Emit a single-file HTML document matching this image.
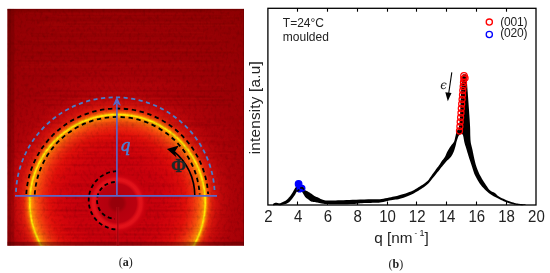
<!DOCTYPE html>
<html><head><meta charset="utf-8"><style>
html,body{margin:0;padding:0;background:#fff;}
body{width:550px;height:273px;overflow:hidden;position:relative;}
svg{position:absolute;left:0;top:0;}
</style></head><body>
<svg width="550" height="273" viewBox="0 0 550 273">
<defs>
<radialGradient id="bg" gradientUnits="userSpaceOnUse" cx="117.5" cy="202.3" r="260">
<stop offset="0.0000" stop-color="rgb(198, 0, 12)"/>
<stop offset="0.1615" stop-color="rgb(200, 0, 12)"/>
<stop offset="0.2231" stop-color="rgb(212, 5, 11)"/>
<stop offset="0.2615" stop-color="rgb(225, 15, 10)"/>
<stop offset="0.2885" stop-color="rgb(236, 42, 14)"/>
<stop offset="0.3096" stop-color="rgb(246, 78, 14)"/>
<stop offset="0.3250" stop-color="rgb(252, 122, 10)"/>
<stop offset="0.3323" stop-color="rgb(254, 160, 5)"/>
<stop offset="0.3356" stop-color="rgb(255, 226, 5)"/>
<stop offset="0.3383" stop-color="rgb(255, 236, 10)"/>
<stop offset="0.3412" stop-color="rgb(255, 172, 5)"/>
<stop offset="0.3454" stop-color="rgb(247, 108, 6)"/>
<stop offset="0.3519" stop-color="rgb(238, 65, 10)"/>
<stop offset="0.3615" stop-color="rgb(224, 32, 12)"/>
<stop offset="0.3769" stop-color="rgb(208, 16, 12)"/>
<stop offset="0.4000" stop-color="rgb(190, 7, 10)"/>
<stop offset="0.4423" stop-color="rgb(173, 2, 8)"/>
<stop offset="0.5385" stop-color="rgb(160, 0, 6)"/>
<stop offset="0.7692" stop-color="rgb(148, 0, 4)"/>
<stop offset="1.0000" stop-color="rgb(135, 0, 0)"/>
</radialGradient>
<radialGradient id="wr" gradientUnits="userSpaceOnUse" cx="117.2" cy="203.3" r="31">
<stop offset="0" stop-color="rgb(150,0,10)" stop-opacity="1"/>
<stop offset="0.2" stop-color="rgb(153,0,10)" stop-opacity="1"/>
<stop offset="0.32" stop-color="rgb(180,0,14)" stop-opacity="1"/>
<stop offset="0.62" stop-color="rgb(186,0,15)" stop-opacity="1"/>
<stop offset="0.68" stop-color="rgb(212,10,20)" stop-opacity="1"/>
<stop offset="0.735" stop-color="rgb(226,18,26)" stop-opacity="1"/>
<stop offset="0.8" stop-color="rgb(224,16,24)" stop-opacity="1"/>
<stop offset="0.86" stop-color="rgb(206,4,16)" stop-opacity="1"/>
<stop offset="0.93" stop-color="rgb(199,0,12)" stop-opacity="0.7"/>
<stop offset="1" stop-color="rgb(198,0,12)" stop-opacity="0"/>
</radialGradient>
<filter id="noise" x="0" y="0" width="100%" height="100%" filterUnits="objectBoundingBox">
<feTurbulence type="fractalNoise" baseFrequency="0.35 0.25" numOctaves="2" seed="3" result="t"/>
<feColorMatrix in="t" type="matrix" values="0 0 0 0 0  0 0 0 0 0  0 0 0 0 0  0 0 0 -1.6 0.85" result="a"/>
<feComposite in="a" in2="SourceGraphic" operator="in"/>
</filter>
<filter id="bl" x="-20%" y="-20%" width="140%" height="140%"><feGaussianBlur stdDeviation="2"/></filter>
<linearGradient id="lstrip" x1="0" x2="1" y1="0" y2="0"><stop offset="0" stop-color="#6a0000" stop-opacity="0.55"/><stop offset="1" stop-color="#6a0000" stop-opacity="0"/></linearGradient>
<linearGradient id="bstrip" x1="0" x2="0" y1="0" y2="1"><stop offset="0" stop-color="#6a0000" stop-opacity="0"/><stop offset="1" stop-color="#6a0000" stop-opacity="0.6"/></linearGradient>
</defs>
<!-- left panel -->
<rect x="7.4" y="8.9" width="236.6" height="236.8" fill="url(#bg)"/>
<g><rect x="16.5" y="10.5" width="188.5" height="1" fill="#000" opacity="0.078"/>
<rect x="10.9" y="11.5" width="202.7" height="1" fill="#000" opacity="0.070"/>
<rect x="12.8" y="12.5" width="205.7" height="1" fill="#ff3020" opacity="0.049"/>
<rect x="45.0" y="13.5" width="142.1" height="1" fill="#ff3020" opacity="0.068"/>
<rect x="58.9" y="15.5" width="167.7" height="1" fill="#000" opacity="0.048"/>
<rect x="56.4" y="16.5" width="176.8" height="1" fill="#ff3020" opacity="0.085"/>
<rect x="40.3" y="17.5" width="200.0" height="1" fill="#000" opacity="0.054"/>
<rect x="26.2" y="19.5" width="182.6" height="1" fill="#000" opacity="0.061"/>
<rect x="41.9" y="22.5" width="170.6" height="1" fill="#ff3020" opacity="0.091"/>
<rect x="66.2" y="23.5" width="170.7" height="1" fill="#000" opacity="0.093"/>
<rect x="36.7" y="24.5" width="204.9" height="1" fill="#ff3020" opacity="0.094"/>
<rect x="49.1" y="27.5" width="159.2" height="1" fill="#ff3020" opacity="0.072"/>
<rect x="49.5" y="32.5" width="155.7" height="1" fill="#ff3020" opacity="0.098"/>
<rect x="30.5" y="33.5" width="173.3" height="1" fill="#000" opacity="0.072"/>
<rect x="14.4" y="34.5" width="226.0" height="1" fill="#ff3020" opacity="0.049"/>
<rect x="30.9" y="35.5" width="160.9" height="1" fill="#000" opacity="0.071"/>
<rect x="32.3" y="40.5" width="190.2" height="1" fill="#ff3020" opacity="0.107"/>
<rect x="18.0" y="41.5" width="212.1" height="1" fill="#000" opacity="0.074"/>
<rect x="7.6" y="43.5" width="211.2" height="1" fill="#000" opacity="0.080"/>
<rect x="61.4" y="49.5" width="135.8" height="1" fill="#ff3020" opacity="0.096"/>
<rect x="31.3" y="50.5" width="206.4" height="1" fill="#ff3020" opacity="0.044"/>
<rect x="19.9" y="51.5" width="214.3" height="1" fill="#000" opacity="0.044"/>
<rect x="16.5" y="52.5" width="221.4" height="1" fill="#000" opacity="0.042"/>
<rect x="22.5" y="55.5" width="200.6" height="1" fill="#000" opacity="0.049"/>
<rect x="13.5" y="60.5" width="209.9" height="1" fill="#000" opacity="0.098"/>
<rect x="8.8" y="61.5" width="178.2" height="1" fill="#ff3020" opacity="0.050"/>
<rect x="39.1" y="63.5" width="146.2" height="1" fill="#ff3020" opacity="0.089"/>
<rect x="29.4" y="64.5" width="204.6" height="1" fill="#ff3020" opacity="0.077"/>
<rect x="20.8" y="66.5" width="174.5" height="1" fill="#ff3020" opacity="0.100"/>
<rect x="38.5" y="70.5" width="184.2" height="1" fill="#000" opacity="0.042"/>
<rect x="23.0" y="71.5" width="179.5" height="1" fill="#ff3020" opacity="0.071"/>
<rect x="20.6" y="75.5" width="209.8" height="1" fill="#000" opacity="0.054"/>
<rect x="47.0" y="82.5" width="142.4" height="1" fill="#ff3020" opacity="0.093"/>
<rect x="54.7" y="84.5" width="169.3" height="1" fill="#ff3020" opacity="0.108"/>
<rect x="31.5" y="85.5" width="155.7" height="1" fill="#ff3020" opacity="0.052"/>
<rect x="16.5" y="86.5" width="173.2" height="1" fill="#ff3020" opacity="0.050"/>
<rect x="40.3" y="90.5" width="195.8" height="1" fill="#000" opacity="0.108"/>
<rect x="59.7" y="94.5" width="134.7" height="1" fill="#000" opacity="0.058"/>
<rect x="21.8" y="95.5" width="187.0" height="1" fill="#000" opacity="0.069"/>
<rect x="62.0" y="96.5" width="160.8" height="1" fill="#000" opacity="0.081"/>
<rect x="62.5" y="98.5" width="151.4" height="1" fill="#ff3020" opacity="0.077"/>
<rect x="33.8" y="99.5" width="199.2" height="1" fill="#000" opacity="0.096"/>
<rect x="35.8" y="100.5" width="164.7" height="1" fill="#ff3020" opacity="0.063"/>
<rect x="41.0" y="104.5" width="188.1" height="1" fill="#000" opacity="0.094"/>
<rect x="44.2" y="109.5" width="169.5" height="1" fill="#ff3020" opacity="0.088"/>
<rect x="41.0" y="117.5" width="146.4" height="1" fill="#ff3020" opacity="0.050"/>
<rect x="33.9" y="118.5" width="205.7" height="1" fill="#000" opacity="0.045"/>
<rect x="50.4" y="122.5" width="154.0" height="1" fill="#000" opacity="0.102"/>
<rect x="64.6" y="124.5" width="155.6" height="1" fill="#000" opacity="0.109"/>
<rect x="33.3" y="126.5" width="179.8" height="1" fill="#000" opacity="0.054"/>
<rect x="50.7" y="127.5" width="192.1" height="1" fill="#ff3020" opacity="0.071"/>
<rect x="27.3" y="128.5" width="179.3" height="1" fill="#ff3020" opacity="0.045"/>
<rect x="23.3" y="132.5" width="218.3" height="1" fill="#ff3020" opacity="0.059"/>
<rect x="32.7" y="133.5" width="156.6" height="1" fill="#ff3020" opacity="0.058"/>
<rect x="62.6" y="134.5" width="147.2" height="1" fill="#ff3020" opacity="0.046"/>
<rect x="48.7" y="135.5" width="169.8" height="1" fill="#000" opacity="0.106"/>
<rect x="58.8" y="138.5" width="181.2" height="1" fill="#ff3020" opacity="0.072"/>
<rect x="40.6" y="139.5" width="147.8" height="1" fill="#000" opacity="0.049"/>
<rect x="14.0" y="141.5" width="220.3" height="1" fill="#000" opacity="0.054"/>
<rect x="25.7" y="142.5" width="172.7" height="1" fill="#000" opacity="0.075"/>
<rect x="28.2" y="143.5" width="214.7" height="1" fill="#000" opacity="0.041"/>
<rect x="35.9" y="146.5" width="152.0" height="1" fill="#000" opacity="0.097"/>
<rect x="37.1" y="147.5" width="156.8" height="1" fill="#000" opacity="0.075"/>
<rect x="57.3" y="150.5" width="144.3" height="1" fill="#ff3020" opacity="0.068"/>
<rect x="10.7" y="151.5" width="225.5" height="1" fill="#000" opacity="0.092"/>
<rect x="17.2" y="152.5" width="221.7" height="1" fill="#ff3020" opacity="0.101"/>
<rect x="21.9" y="154.5" width="204.5" height="1" fill="#000" opacity="0.051"/>
<rect x="23.2" y="155.5" width="163.1" height="1" fill="#ff3020" opacity="0.078"/>
<rect x="65.3" y="156.5" width="160.1" height="1" fill="#000" opacity="0.040"/>
<rect x="35.9" y="157.5" width="178.0" height="1" fill="#000" opacity="0.075"/>
<rect x="23.3" y="158.5" width="215.4" height="1" fill="#000" opacity="0.043"/>
<rect x="25.7" y="159.5" width="204.4" height="1" fill="#ff3020" opacity="0.077"/>
<rect x="27.0" y="164.5" width="157.9" height="1" fill="#000" opacity="0.091"/>
<rect x="57.5" y="166.5" width="133.0" height="1" fill="#ff3020" opacity="0.091"/>
<rect x="38.8" y="168.5" width="174.9" height="1" fill="#ff3020" opacity="0.096"/>
<rect x="9.3" y="174.5" width="226.7" height="1" fill="#000" opacity="0.047"/>
<rect x="55.3" y="181.5" width="143.8" height="1" fill="#ff3020" opacity="0.077"/>
<rect x="51.6" y="183.5" width="177.3" height="1" fill="#000" opacity="0.059"/>
<rect x="51.8" y="185.5" width="133.7" height="1" fill="#000" opacity="0.067"/>
<rect x="16.2" y="191.5" width="212.5" height="1" fill="#ff3020" opacity="0.061"/>
<rect x="11.0" y="193.5" width="216.8" height="1" fill="#ff3020" opacity="0.088"/>
<rect x="38.4" y="195.5" width="177.7" height="1" fill="#000" opacity="0.048"/>
<rect x="66.1" y="197.5" width="121.7" height="1" fill="#000" opacity="0.072"/>
<rect x="23.5" y="200.5" width="207.9" height="1" fill="#ff3020" opacity="0.055"/>
<rect x="38.8" y="202.5" width="148.0" height="1" fill="#000" opacity="0.097"/>
<rect x="61.3" y="206.5" width="153.6" height="1" fill="#000" opacity="0.040"/>
<rect x="15.8" y="209.5" width="207.5" height="1" fill="#000" opacity="0.099"/>
<rect x="52.4" y="210.5" width="141.2" height="1" fill="#000" opacity="0.105"/>
<rect x="29.7" y="213.5" width="190.7" height="1" fill="#ff3020" opacity="0.081"/>
<rect x="33.1" y="214.5" width="194.4" height="1" fill="#000" opacity="0.047"/>
<rect x="63.5" y="216.5" width="165.5" height="1" fill="#000" opacity="0.076"/>
<rect x="29.8" y="217.5" width="156.8" height="1" fill="#ff3020" opacity="0.097"/>
<rect x="51.3" y="223.5" width="165.6" height="1" fill="#ff3020" opacity="0.085"/>
<rect x="10.3" y="224.5" width="178.1" height="1" fill="#000" opacity="0.073"/>
<rect x="25.3" y="225.5" width="174.4" height="1" fill="#ff3020" opacity="0.058"/>
<rect x="40.8" y="227.5" width="179.5" height="1" fill="#000" opacity="0.051"/>
<rect x="61.8" y="228.5" width="152.4" height="1" fill="#000" opacity="0.103"/>
<rect x="15.8" y="230.5" width="216.7" height="1" fill="#000" opacity="0.064"/>
<rect x="21.7" y="231.5" width="206.8" height="1" fill="#ff3020" opacity="0.102"/>
<rect x="32.2" y="233.5" width="180.3" height="1" fill="#000" opacity="0.064"/>
<rect x="24.1" y="234.5" width="161.9" height="1" fill="#000" opacity="0.075"/>
<rect x="23.7" y="237.5" width="205.4" height="1" fill="#000" opacity="0.071"/></g>
<rect x="7.4" y="8.9" width="236.6" height="236.8" fill="#000" opacity="0.18" filter="url(#noise)"/>
<rect x="7.4" y="8.9" width="6.9" height="236.8" fill="#4a0000" opacity="0.24"/>
<rect x="7.4" y="8.9" width="3.5" height="236.8" fill="#4a0000" opacity="0.15"/>
<rect x="7.4" y="241.8" width="236.6" height="3.9" fill="#4a0000" opacity="0.45"/>
<rect x="7.4" y="8.9" width="236.6" height="1.5" fill="#4a0000" opacity="0.35"/>
<rect x="243" y="8.9" width="1" height="236.8" fill="#4a0000" opacity="0.3"/>
<circle cx="117.2" cy="203.3" r="31" fill="url(#wr)"/>
<rect x="116.4" y="207" width="2.8" height="38.5" fill="#e02030" opacity="0.35"/>
<rect x="117.1" y="207" width="1.4" height="38.5" fill="#900008" opacity="0.7"/>
<g fill="none" stroke-linecap="butt">
<path d="M15.98,191.85 A99.4,98.5 0 0 1 214.62,191.85" stroke="#4a7cc8" stroke-width="1.8" stroke-dasharray="4.2 3.4"/>
<path d="M26.27,194.04 A91.1,91.1 0 0 1 208.13,194.04" stroke="#000" stroke-width="1.8" stroke-dasharray="4.4 3.6"/>
<path d="M34.75,194.56 A82.6,82.6 0 0 1 199.65,194.56" stroke="#000" stroke-width="1.8" stroke-dasharray="4.4 3.6"/>
<path d="M116.82,171.12 A29.2,29.2 0 0 0 116.82,229.48" stroke="#000" stroke-width="1.8" stroke-dasharray="4 3"/>
<path d="M114.84,182.01 A18.4,18.4 0 0 0 114.84,218.79" stroke="#000" stroke-width="1.8" stroke-dasharray="4 3"/>
<path d="M194.75,195.30 A56.65,56.65 0 0 0 174.13,151.59" stroke="#000" stroke-width="1.6"/>
<line x1="15" y1="195.85" x2="217" y2="195.85" stroke="#5a68c8" stroke-width="1.6"/>
<line x1="116.9" y1="195.85" x2="116.9" y2="104" stroke="#5a68c8" stroke-width="1.6"/>
</g>
<polygon points="116.9,96.6 121,105.8 116.9,103.4 112.8,105.8" fill="#5a68c8"/>
<polygon points="166.9,149.1 178.9,145.5 174.8,151.8 176.4,157.2" fill="#000"/>
<text x="120" y="151.3" font-family="DejaVu Serif, serif" font-style="italic" font-size="16.5" fill="#4a80d8" stroke="#4a80d8" stroke-width="0.45">q</text>
<text x="171.2" y="172" font-family="Liberation Serif, serif" font-weight="bold" font-size="18" fill="#1e2828" stroke="#1e2828" stroke-width="0.35">Φ</text>
<!-- right panel -->
<g fill="#000">
<polygon points="273.00,204.00 273.11,203.91 273.25,203.78 273.42,203.63 273.62,203.47 273.85,203.33 274.10,203.20 274.39,203.09 274.72,202.97 275.07,202.86 275.45,202.77 275.83,202.72 276.20,202.70 276.58,202.74 276.97,202.84 277.37,202.97 277.76,203.11 278.14,203.23 278.50,203.30 278.81,203.34 279.09,203.37 279.35,203.38 279.62,203.36 279.93,203.30 280.30,203.20 280.74,203.05 281.24,202.84 281.77,202.60 282.33,202.34 282.87,202.07 283.40,201.80 283.92,201.54 284.44,201.27 284.96,200.99 285.47,200.71 285.95,200.41 286.40,200.10 286.80,199.78 287.17,199.44 287.51,199.10 287.83,198.74 288.16,198.38 288.50,198.00 288.85,197.61 289.20,197.22 289.56,196.81 289.91,196.39 290.26,195.96 290.60,195.50 290.94,195.02 291.27,194.53 291.60,194.02 291.93,193.49 292.26,192.95 292.60,192.40 292.95,191.81 293.31,191.18 293.68,190.54 294.04,189.91 294.38,189.32 294.70,188.80 294.98,188.36 295.21,187.97 295.44,187.63 295.66,187.31 295.91,187.01 296.20,186.70 296.54,186.37 296.92,186.02 297.32,185.69 297.73,185.39 298.12,185.15 298.50,185.00 298.85,184.94 299.19,184.95 299.52,185.02 299.84,185.14 300.17,185.30 300.50,185.50 300.83,185.74 301.14,186.03 301.46,186.36 301.78,186.73 302.13,187.11 302.50,187.50 302.90,187.92 303.33,188.39 303.77,188.87 304.23,189.35 304.71,189.80 305.20,190.20 305.72,190.54 306.27,190.83 306.83,191.10 307.40,191.36 307.96,191.62 308.50,191.90 309.02,192.20 309.52,192.51 310.02,192.82 310.51,193.14 311.00,193.46 311.50,193.80 312.00,194.16 312.50,194.54 313.00,194.94 313.50,195.32 314.00,195.68 314.50,196.00 315.00,196.27 315.49,196.49 315.98,196.69 316.48,196.88 316.98,197.08 317.50,197.30 318.01,197.55 318.52,197.81 319.03,198.09 319.57,198.36 320.15,198.64 320.80,198.90 321.47,199.17 322.13,199.46 322.84,199.75 323.64,200.01 324.58,200.24 325.70,200.40 326.98,200.49 328.36,200.53 329.89,200.53 331.58,200.50 333.48,200.45 335.60,200.40 337.98,200.33 340.59,200.24 343.41,200.14 346.39,200.02 349.49,199.91 352.70,199.80 356.25,199.69 360.22,199.58 364.32,199.46 368.27,199.36 371.76,199.27 374.50,199.20 376.30,199.19 377.34,199.23 377.93,199.29 378.36,199.33 378.95,199.31 380.00,199.20 381.54,198.98 383.33,198.69 385.28,198.33 387.28,197.95 389.22,197.56 391.00,197.20 392.59,196.87 394.07,196.57 395.50,196.26 396.93,195.92 398.41,195.54 400.00,195.10 401.74,194.59 403.60,194.03 405.51,193.43 407.42,192.78 409.27,192.10 411.00,191.40 412.61,190.66 414.14,189.88 415.61,189.06 417.03,188.22 418.42,187.37 419.80,186.50 421.21,185.59 422.64,184.64 424.04,183.66 425.35,182.71 426.52,181.81 427.50,181.00 428.21,180.33 428.68,179.78 429.01,179.29 429.29,178.79 429.62,178.21 430.10,177.50 430.73,176.63 431.43,175.65 432.19,174.60 432.97,173.51 433.75,172.44 434.50,171.40 435.25,170.39 436.02,169.36 436.79,168.34 437.54,167.35 438.25,166.39 438.90,165.50 439.47,164.68 439.97,163.92 440.42,163.21 440.87,162.51 441.32,161.82 441.80,161.10 442.33,160.37 442.89,159.63 443.46,158.90 444.01,158.17 444.53,157.43 445.00,156.70 445.40,155.97 445.74,155.23 446.04,154.50 446.34,153.77 446.65,153.03 447.00,152.30 447.39,151.55 447.81,150.78 448.25,150.01 448.69,149.26 449.11,148.55 449.50,147.90 449.86,147.34 450.18,146.84 450.49,146.39 450.81,145.96 451.14,145.50 451.50,145.00 451.91,144.47 452.37,143.93 452.84,143.38 453.31,142.80 453.73,142.18 454.10,141.50 454.39,140.75 454.63,139.94 454.84,139.09 455.02,138.21 455.20,137.34 455.40,136.50 455.60,135.66 455.78,134.81 455.96,133.96 456.14,133.13 456.35,132.34 456.60,131.60 456.90,130.95 457.24,130.39 457.61,129.87 457.98,129.33 458.32,128.72 458.60,128.00 458.83,127.19 459.02,126.33 459.19,125.40 459.33,124.39 459.47,123.26 459.60,122.00 459.73,120.58 459.84,119.00 459.94,117.31 460.03,115.56 460.12,113.77 460.20,112.00 460.28,110.22 460.34,108.41 460.40,106.56 460.46,104.70 460.52,102.84 460.60,101.00 460.69,99.13 460.79,97.22 460.89,95.31 460.99,93.44 461.10,91.66 461.20,90.00 461.30,88.46 461.41,87.00 461.51,85.62 461.61,84.33 461.71,83.12 461.80,82.00 461.88,80.97 461.94,80.03 462.00,79.17 462.06,78.39 462.12,77.67 462.20,77.00 462.30,76.37 462.41,75.80 462.52,75.29 462.64,74.84 462.73,74.48 462.80,74.20 463.16,74.20 463.69,74.20 464.30,74.20 464.91,74.20 465.44,74.20 465.80,74.20 465.88,74.34 465.99,74.47 466.12,74.66 466.26,74.95 466.39,75.38 466.50,76.00 466.58,76.72 466.64,77.47 466.70,78.36 466.77,79.51 466.86,81.02 467.00,83.00 467.19,85.56 467.43,88.63 467.69,92.06 467.96,95.70 468.24,99.40 468.50,103.00 468.76,106.68 469.04,110.59 469.32,114.56 469.59,118.41 469.82,121.95 470.00,125.00 470.12,127.52 470.18,129.64 470.21,131.46 470.23,133.06 470.25,134.54 470.30,136.00 470.36,137.36 470.41,138.53 470.46,139.58 470.54,140.58 470.64,141.60 470.80,142.70 471.02,143.88 471.29,145.09 471.59,146.31 471.90,147.54 472.21,148.78 472.50,150.00 472.75,151.20 472.99,152.38 473.22,153.56 473.46,154.76 473.71,156.00 474.00,157.30 474.31,158.68 474.62,160.11 474.96,161.59 475.32,163.09 475.73,164.60 476.20,166.10 476.71,167.59 477.26,169.08 477.86,170.57 478.50,172.09 479.22,173.63 480.00,175.20 480.91,176.87 481.94,178.65 483.04,180.45 484.14,182.19 485.18,183.80 486.10,185.20 486.86,186.37 487.51,187.36 488.11,188.22 488.69,188.98 489.30,189.68 490.00,190.35 490.82,190.96 491.72,191.47 492.66,191.92 493.58,192.34 494.45,192.75 495.20,193.20 495.77,193.66 496.17,194.10 496.51,194.54 496.90,195.00 497.42,195.50 498.20,196.05 499.27,196.68 500.55,197.39 501.98,198.13 503.47,198.87 504.97,199.57 506.40,200.20 507.80,200.76 509.24,201.29 510.68,201.77 512.07,202.22 513.40,202.61 514.60,202.95 515.66,203.22 516.61,203.42 517.49,203.57 518.32,203.69 519.14,203.79 520.00,203.90 520.93,204.00 521.93,204.07 522.91,204.13 523.83,204.18 524.61,204.23 525.20,204.30 525.55,204.38 525.70,204.48 525.73,204.58 525.67,204.67 525.61,204.74 525.60,204.80 525.55,204.84 525.48,204.89 525.40,204.95 525.32,205.01 525.25,205.06 525.20,205.10 524.64,205.11 523.86,205.12 522.94,205.13 521.94,205.13 520.94,205.13 520.00,205.10 519.14,205.07 518.32,205.06 517.49,205.03 516.61,204.96 515.66,204.85 514.60,204.65 513.40,204.37 512.07,204.03 510.68,203.63 509.24,203.18 507.80,202.70 506.40,202.20 505.04,201.68 503.70,201.14 502.36,200.56 501.01,199.94 499.62,199.27 498.20,198.55 496.71,197.79 495.16,196.99 493.59,196.15 492.01,195.24 490.48,194.26 489.00,193.20 487.57,192.04 486.17,190.80 484.80,189.49 483.47,188.11 482.20,186.68 481.00,185.20 479.85,183.64 478.75,181.98 477.70,180.27 476.72,178.54 475.81,176.84 475.00,175.20 474.30,173.63 473.71,172.09 473.21,170.57 472.74,169.08 472.28,167.59 471.80,166.10 471.29,164.60 470.79,163.09 470.29,161.59 469.80,160.11 469.34,158.68 468.90,157.30 468.49,156.00 468.11,154.76 467.76,153.56 467.41,152.38 467.06,151.20 466.70,150.00 466.33,148.78 465.94,147.57 465.56,146.36 465.18,145.14 464.83,143.92 464.50,142.70 464.21,141.41 463.96,140.03 463.72,138.65 463.49,137.35 463.25,136.20 463.00,135.30 462.71,134.67 462.39,134.25 462.06,133.99 461.75,133.83 461.49,133.72 461.30,133.60 461.10,133.75 460.81,133.96 460.48,134.21 460.12,134.47 459.79,134.74 459.50,135.00 459.27,135.20 459.07,135.36 458.89,135.53 458.71,135.74 458.52,136.05 458.30,136.50 458.04,137.15 457.74,137.96 457.43,138.88 457.12,139.81 456.84,140.71 456.60,141.50 456.41,142.18 456.27,142.80 456.14,143.38 456.03,143.93 455.92,144.47 455.80,145.00 455.67,145.50 455.56,145.96 455.44,146.39 455.32,146.84 455.17,147.34 455.00,147.90 454.80,148.55 454.59,149.26 454.36,150.01 454.10,150.78 453.82,151.55 453.50,152.30 453.16,153.03 452.81,153.77 452.43,154.50 452.00,155.23 451.53,155.97 451.00,156.70 450.38,157.43 449.68,158.17 448.93,158.90 448.16,159.63 447.41,160.37 446.70,161.10 446.05,161.82 445.43,162.51 444.82,163.21 444.21,163.92 443.58,164.68 442.90,165.50 442.17,166.40 441.40,167.36 440.61,168.36 439.80,169.39 438.99,170.41 438.20,171.40 437.43,172.36 436.68,173.29 435.93,174.22 435.16,175.17 434.36,176.16 433.50,177.20 432.59,178.33 431.66,179.53 430.69,180.77 429.67,182.00 428.61,183.19 427.50,184.30 426.33,185.32 425.10,186.27 423.83,187.19 422.51,188.07 421.17,188.94 419.80,189.80 418.42,190.66 417.03,191.51 415.61,192.34 414.14,193.15 412.61,193.94 411.00,194.70 409.27,195.46 407.42,196.23 405.51,196.97 403.60,197.66 401.74,198.28 400.00,198.80 398.41,199.18 396.93,199.43 395.50,199.61 394.07,199.76 392.59,199.94 391.00,200.20 389.22,200.57 387.28,201.01 385.28,201.47 383.33,201.93 381.54,202.32 380.00,202.60 378.85,202.76 378.02,202.82 377.34,202.82 376.65,202.80 375.76,202.78 374.50,202.80 372.78,202.85 370.73,202.90 368.49,202.96 366.19,203.03 363.98,203.11 362.00,203.20 360.36,203.32 358.95,203.46 357.64,203.61 356.26,203.76 354.66,203.90 352.70,204.00 350.22,204.07 347.31,204.13 344.19,204.16 341.06,204.19 338.12,204.20 335.60,204.20 333.48,204.20 331.58,204.18 329.89,204.16 328.36,204.12 326.98,204.07 325.70,204.00 324.58,203.91 323.64,203.80 322.84,203.68 322.13,203.55 321.47,203.42 320.80,203.30 320.15,203.18 319.57,203.06 319.03,202.94 318.52,202.83 318.01,202.71 317.50,202.60 316.99,202.49 316.49,202.39 316.00,202.29 315.51,202.19 315.01,202.09 314.50,202.00 313.96,201.93 313.40,201.88 312.83,201.83 312.27,201.77 311.72,201.66 311.20,201.50 310.72,201.27 310.28,201.00 309.85,200.68 309.42,200.34 308.98,199.97 308.50,199.60 307.98,199.23 307.42,198.86 306.85,198.46 306.28,198.03 305.72,197.55 305.20,197.00 304.71,196.33 304.25,195.55 303.80,194.71 303.36,193.89 302.93,193.13 302.50,192.50 302.06,192.01 301.61,191.61 301.18,191.28 300.75,191.00 300.36,190.75 300.00,190.50 299.67,190.26 299.37,190.06 299.09,189.88 298.85,189.72 298.65,189.60 298.50,189.50 298.29,189.76 297.99,190.12 297.64,190.54 297.27,191.00 296.91,191.47 296.60,191.90 296.35,192.30 296.12,192.70 295.91,193.11 295.70,193.52 295.47,193.95 295.20,194.40 294.89,194.89 294.55,195.41 294.19,195.94 293.82,196.48 293.45,197.01 293.10,197.50 292.76,197.97 292.43,198.42 292.10,198.86 291.77,199.29 291.44,199.70 291.10,200.10 290.76,200.49 290.43,200.86 290.09,201.22 289.74,201.56 289.38,201.89 289.00,202.20 288.60,202.49 288.19,202.77 287.76,203.03 287.31,203.27 286.86,203.50 286.40,203.70 285.92,203.88 285.43,204.02 284.93,204.15 284.42,204.27 283.91,204.38 283.40,204.50 282.90,204.63 282.41,204.78 281.92,204.92 281.41,205.04 280.88,205.14 280.30,205.20 279.65,205.20 278.93,205.15 278.19,205.07 277.46,204.99 276.78,204.93 276.20,204.90 275.72,204.92 275.31,204.97 274.96,205.03 274.65,205.10 274.37,205.16 274.10,205.20 273.85,205.22 273.62,205.22 273.42,205.22 273.25,205.21 273.11,205.20 273.00,205.20 273.00,205.06 273.00,204.84 273.00,204.60 273.00,204.36 273.00,204.14"/>
</g>
<rect x="267.9" y="8.3" width="268.1" height="196.7" fill="none" stroke="#000" stroke-width="1.3"/>
<g stroke="#000" stroke-width="1.1">
<line x1="297.5" y1="204.9" x2="297.5" y2="201.5"/><line x1="297.5" y1="8.3" x2="297.5" y2="11.7"/><line x1="327.5" y1="204.9" x2="327.5" y2="201.5"/><line x1="327.5" y1="8.3" x2="327.5" y2="11.7"/><line x1="357.5" y1="204.9" x2="357.5" y2="201.5"/><line x1="357.5" y1="8.3" x2="357.5" y2="11.7"/><line x1="387.5" y1="204.9" x2="387.5" y2="201.5"/><line x1="387.5" y1="8.3" x2="387.5" y2="11.7"/><line x1="416.5" y1="204.9" x2="416.5" y2="201.5"/><line x1="416.5" y1="8.3" x2="416.5" y2="11.7"/><line x1="446.5" y1="204.9" x2="446.5" y2="201.5"/><line x1="446.5" y1="8.3" x2="446.5" y2="11.7"/><line x1="476.5" y1="204.9" x2="476.5" y2="201.5"/><line x1="476.5" y1="8.3" x2="476.5" y2="11.7"/><line x1="506.5" y1="204.9" x2="506.5" y2="201.5"/><line x1="506.5" y1="8.3" x2="506.5" y2="11.7"/>
</g>
<g fill="none" stroke="#f00" stroke-width="1.2">
<circle cx="463.8" cy="79.0" r="3.05"/><circle cx="463.5" cy="82.5" r="3.05"/><circle cx="463.2" cy="86.5" r="3.05"/><circle cx="462.8" cy="90.5" r="3.05"/><circle cx="462.5" cy="95.0" r="3.05"/><circle cx="462.1" cy="99.5" r="3.05"/><circle cx="461.7" cy="104.0" r="3.05"/><circle cx="461.3" cy="108.5" r="3.05"/><circle cx="461.0" cy="113.0" r="3.05"/><circle cx="460.6" cy="117.5" r="3.05"/><circle cx="460.2" cy="122.0" r="3.05"/><circle cx="459.9" cy="126.5" r="3.05"/><circle cx="459.5" cy="131.0" r="3.05"/>
<circle cx="464.0" cy="76.0" r="3.3"/>
<circle cx="464.9" cy="78.0" r="3.2"/>
<circle cx="489.3" cy="22.1" r="3.1" stroke-width="1.3"/>
</g>
<g fill="#00f" stroke="#00f" stroke-width="1.2">
<circle cx="298.6" cy="184.0" r="3.3"/>
<circle cx="302.0" cy="188.2" r="2.9"/>
<circle cx="299.6" cy="189.4" r="2.5"/>
</g>
<circle cx="489.3" cy="34.5" r="3.1" fill="none" stroke="#00f" stroke-width="1.3"/>
<path d="M297.2,191.4 L299.4,189.6 M300.2,188.2 L302.2,187.6 L304,189.6" stroke="#000" stroke-width="1.7" fill="none"/>
<g font-family="Liberation Sans, Arial, sans-serif" fill="#222">
<text x="282.8" y="26.6" font-size="12">T=24°C</text>
<text x="282.8" y="40.9" font-size="12">moulded</text>
<text x="500.3" y="25.5" font-size="12" letter-spacing="-0.2">(001)</text>
<text x="500.3" y="37.4" font-size="12" letter-spacing="-0.2">(020)</text>
<g font-size="15" text-anchor="middle">
<text transform="translate(268.3,222.2) scale(1,1.08)">2</text><text transform="translate(298.1,222.2) scale(1,1.08)">4</text><text transform="translate(327.9,222.2) scale(1,1.08)">6</text><text transform="translate(357.7,222.2) scale(1,1.08)">8</text><text transform="translate(387.5,222.2) scale(1,1.08)">10</text><text transform="translate(417.2,222.2) scale(1,1.08)">12</text><text transform="translate(447.0,222.2) scale(1,1.08)">14</text><text transform="translate(476.8,222.2) scale(1,1.08)">16</text><text transform="translate(506.6,222.2) scale(1,1.08)">18</text><text transform="translate(536.4,222.2) scale(1,1.08)">20</text>
</g>
<text x="374.2" y="243.2" font-size="15.3">q [nm</text>
<text x="414.6" y="235.3" font-size="8">-</text>
<text x="419.4" y="235.8" font-size="9">1</text>
<text x="424.6" y="243.2" font-size="15.3">]</text>
<text transform="translate(259.8,107.7) rotate(-90)" font-size="15.3" letter-spacing="0.2" text-anchor="middle">intensity [a.u]</text>
</g>
<path d="M451.8,72.3 L448.6,94" stroke="#000" stroke-width="1.1" fill="none"/>
<polygon points="447.8,101.2 445.3,92.2 451.5,93.1" fill="#000"/>
<text transform="translate(439.8,89.1) skewX(-8)" font-family="DejaVu Serif, serif" font-size="12" fill="#222">ϵ</text>
<g font-family="Liberation Serif, serif" font-weight="bold" font-size="12" fill="#222" text-anchor="middle">
<text x="125.7" y="266.3"><tspan font-weight="normal">(</tspan>a<tspan font-weight="normal">)</tspan></text>
<text x="395.9" y="267.8"><tspan font-weight="normal">(</tspan>b<tspan font-weight="normal">)</tspan></text>
</g>
</svg>
</body></html>
